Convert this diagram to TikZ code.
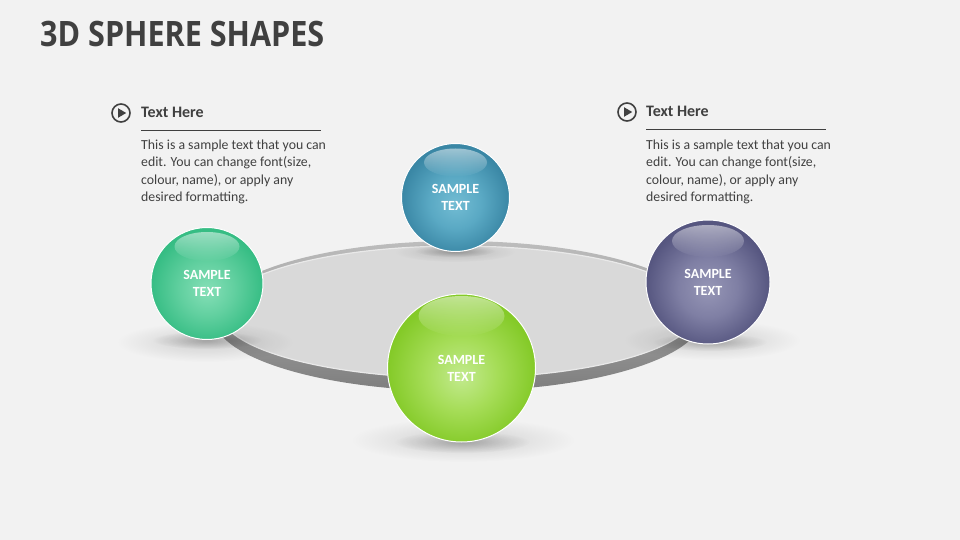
\documentclass[tikz,border=0pt]{standalone}
\usepackage{fontspec}
\setmainfont{Carlito}
\newfontfamily\titlefont{Open Sans}
\usetikzlibrary{fadings}

\definecolor{bgc}{HTML}{F2F2F2}
\definecolor{ink}{HTML}{404040}
\definecolor{rimTop}{HTML}{BDBDBD}
\definecolor{rimBot}{HTML}{7E7E7E}
\definecolor{plate}{HTML}{D9D9D9}
\definecolor{plateLine}{HTML}{E9E9E9}

\definecolor{tealC}{HTML}{72BCD3}
\definecolor{tealM}{HTML}{5AA9C4}
\definecolor{tealE}{HTML}{3A87A5}
\definecolor{mintC}{HTML}{85DFB7}
\definecolor{mintM}{HTML}{62D0A0}
\definecolor{mintE}{HTML}{36BD84}
\definecolor{purpC}{HTML}{9696B6}
\definecolor{purpM}{HTML}{7F7FA4}
\definecolor{purpE}{HTML}{565680}
\definecolor{limeC}{HTML}{C2EA8E}
\definecolor{limeM}{HTML}{A6DD58}
\definecolor{limeE}{HTML}{84CA28}

\pgfdeclareradialshading{sphTeal}{\pgfpoint{0bp}{-3bp}}{color(0bp)=(tealC); color(12bp)=(tealM); color(25bp)=(tealE); color(50bp)=(tealE)}
\pgfdeclareradialshading{sphMint}{\pgfpoint{0bp}{-3bp}}{color(0bp)=(mintC); color(12bp)=(mintM); color(25bp)=(mintE); color(50bp)=(mintE)}
\pgfdeclareradialshading{sphPurp}{\pgfpoint{0bp}{-3bp}}{color(0bp)=(purpC); color(12bp)=(purpM); color(25bp)=(purpE); color(50bp)=(purpE)}
\pgfdeclareradialshading{sphLime}{\pgfpoint{0bp}{-3bp}}{color(0bp)=(limeC); color(12bp)=(limeM); color(25bp)=(limeE); color(50bp)=(limeE)}

\tikzfading[name=softshadow, inner color=transparent!86, outer color=transparent!100]
\tikzfading[name=hardshadow, inner color=transparent!78, outer color=transparent!100]

\tikzset{
  sphere/.style={circle, draw=white, line width=1pt, inner sep=0pt,
    text=white, align=center, font=\bfseries\fontsize{14}{17}\selectfont},
  headtext/.style={anchor=base west, text=ink, inner sep=0pt, font=\bfseries\fontsize{16}{19}\selectfont},
  bodytext/.style={anchor=base west, text=ink, inner sep=0pt, font=\fontsize{13.8}{17}\selectfont},
  playicon/.style={circle, draw=ink, line width=1.6pt, minimum size=18pt, inner sep=0pt},
  gloss/.style={white, path fading=south, fill opacity=0.5},
  rulestyle/.style={draw=ink, line width=0.9pt}
}

\begin{document}
\begin{tikzpicture}[x=1pt,y=1pt]
\fill[bgc] (0,0) rectangle (960,-540);
\useasboundingbox (0,0) rectangle (960,-540);

% title
\node[anchor=base west, inner sep=0pt, text=ink] (title) at (40,-47)
  {\scalebox{0.873}[1]{\titlefont\bfseries\fontsize{35}{40}\selectfont 3D SPHERE SHAPES}};

% left text block
\node[playicon] (iconL) at (121,-113) {};
\fill[ink, shift={(iconL.center)}] (-3,4.8) -- (5.2,0) -- (-3,-4.8) -- cycle;
\node[headtext] (headL) at (141,-118) {Text Here};
\coordinate (ruleLa) at (141,-130);
\coordinate (ruleLb) at (321,-130);
\draw[rulestyle] (ruleLa) -- (ruleLb);
\node[bodytext] (bodyL1) at (141,-150) {This is a sample text that you can};
\node[bodytext] (bodyL2) at (141,-167) {edit. You can change font(size,};
\node[bodytext] (bodyL3) at (141,-184) {colour, name), or apply any};
\node[bodytext] (bodyL4) at (141,-201) {desired formatting.};

% right text block
\node[playicon] (iconR) at (627,-112) {};
\fill[ink, shift={(iconR.center)}] (-3,4.8) -- (5.2,0) -- (-3,-4.8) -- cycle;
\node[headtext] (headR) at (646,-117) {Text Here};
\coordinate (ruleRa) at (646,-129);
\coordinate (ruleRb) at (826,-129);
\draw[rulestyle] (ruleRa) -- (ruleRb);
\node[bodytext] (bodyR1) at (646,-150) {This is a sample text that you can};
\node[bodytext] (bodyR2) at (646,-167) {edit. You can change font(size,};
\node[bodytext] (bodyR3) at (646,-184) {colour, name), or apply any};
\node[bodytext] (bodyR4) at (646,-201) {desired formatting.};

% platform
\shade[top color=rimTop, bottom color=rimBot] (458,-316) ellipse (245 and 75);
\fill[plate] (458,-312) ellipse (238 and 66);
\draw[plateLine, line width=1.2pt] (458,-312) ellipse (238 and 66);

% shadows
\fill[black, path fading=softshadow] (455,-252) ellipse (60 and 10);
\fill[black, path fading=hardshadow] (455,-251) ellipse (40 and 6);
\fill[black, path fading=softshadow] (205,-342) ellipse (88 and 20);
\fill[black, path fading=hardshadow] (207,-340) ellipse (55 and 9);
\fill[black, path fading=softshadow] (712,-340) ellipse (88 and 20);
\fill[black, path fading=hardshadow] (710,-342) ellipse (57 and 9);
\fill[black, path fading=softshadow] (463,-440) ellipse (112 and 22);
\fill[black, path fading=hardshadow] (462,-442) ellipse (68 and 11);

% spheres
\node[sphere, shading=sphTeal, minimum size=108pt] (teal) at (455.5,-197.5) {SAMPLE\\TEXT};
\fill[gloss] ([yshift=35]teal.center) ellipse (31.5 and 14);
\node[sphere, shading=sphMint, minimum size=112pt] (mint) at (207,-283.5) {SAMPLE\\TEXT};
\fill[gloss] ([yshift=37]mint.center) ellipse (32.5 and 14.5);
\node[sphere, shading=sphPurp, minimum size=124pt] (purp) at (708,-282) {SAMPLE\\TEXT};
\fill[gloss] ([yshift=41]purp.center) ellipse (36 and 16);
\node[sphere, shading=sphLime, minimum size=148pt] (lime) at (461.5,-368) {SAMPLE\\TEXT};
\fill[gloss] ([yshift=52]lime.center) ellipse (43 and 20);

\end{tikzpicture}
\end{document}
